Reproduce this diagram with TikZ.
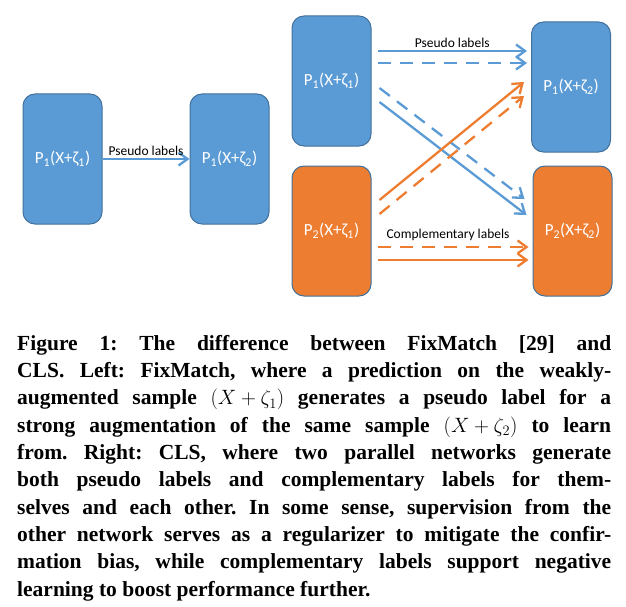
\documentclass[tikz,border=0pt]{standalone}
\usepackage{fontspec}
\usetikzlibrary{arrows.meta,positioning,calc}
\newfontfamily\boxfont{Carlito}
\newfontfamily\capfont{Liberation Serif}
\definecolor{netblue}{HTML}{5B9BD5}
\definecolor{netorange}{HTML}{ED7D31}
\definecolor{netedge}{HTML}{41719C}

\begin{document}
\begin{tikzpicture}[
  x=1pt, y=-1pt,
  netbox/.style={draw=netedge, line width=1pt, rounded corners=12pt, minimum width=79pt, minimum height=130pt, inner sep=0pt, text=white, font=\boxfont\fontsize{17}{20}\selectfont},
  arr/.style={line width=2.3pt, -{Straight Barb[length=9pt,width=13pt]}},
  dsh/.style={dash pattern=on 13pt off 9pt},
  lbl/.style={text=black, font=\boxfont\fontsize{13.5}{15}\selectfont, inner sep=2pt}
]
  \useasboundingbox (0,0) rectangle (626,607);

  % left: FixMatch
  \node[netbox, fill=netblue] (fm1) at (62.5,159) {P\textsubscript{1}(X+ζ\textsubscript{1})};
  \node[netbox, fill=netblue, right=87pt of fm1] (fm2) {P\textsubscript{1}(X+ζ\textsubscript{2})};
  \draw[arr, netblue] (fm1) -- node[lbl, midway, above] {Pseudo labels} (fm2);

  % right: CLS
  \node[netbox, fill=netblue] (weak1) at (331.5,81) {P\textsubscript{1}(X+ζ\textsubscript{1})};
  \node[netbox, fill=netorange, below=19pt of weak1] (weak2) {P\textsubscript{2}(X+ζ\textsubscript{1})};
  \node[netbox, fill=netblue] (strong1) at (571,87) {P\textsubscript{1}(X+ζ\textsubscript{2})};
  \node[netbox, fill=netorange, right=161pt of weak2] (strong2) {P\textsubscript{2}(X+ζ\textsubscript{2})};

  \draw[arr, netblue] ($(weak1.east)+(6,-30)$) -- node[lbl, midway, above] {Pseudo labels} ($(strong1.west)+(-4,-36)$);
  \draw[arr, netblue, dsh] ($(weak1.east)+(6,-18)$) -- ($(strong1.west)+(-4,-24)$);
  \draw[arr, netblue, dsh] ($(weak1.east)+(8,7)$) -- ($(strong2.west)+(-8,-32)$);
  \draw[arr, netblue] ($(weak1.east)+(8,21)$) -- ($(strong2.west)+(-6,-16)$);
  \draw[arr, netorange] ($(weak2.east)+(8,-31)$) -- ($(strong1.west)+(-7,-5)$);
  \draw[arr, netorange, dsh] ($(weak2.east)+(8,-17)$) -- ($(strong1.west)+(-7,9)$);
  \draw[arr, netorange, dsh] ($(weak2.east)+(6,16)$) -- node[lbl, midway, above=3pt, xshift=-5pt] {Complementary labels} ($(strong2.west)+(-4,16)$);
  \draw[arr, netorange] ($(weak2.east)+(6,29)$) -- ($(strong2.west)+(-4,29)$);

  % caption
  \node[anchor=north west, inner sep=0pt, text width=594pt, align=justify,
        font=\capfont\bfseries\fontsize{21.5}{27.3}\selectfont\frenchspacing] (caption) at (17,335)
  {\medmuskip=4mu\relax
   Figure 1: The difference between FixMatch [29] and\linebreak
   CLS. Left: FixMatch, where a prediction on the weakly-\linebreak
   augmented sample $(X+\zeta_1)$ generates a pseudo label for a\linebreak
   strong augmentation of the same sample $(X+\zeta_2)$ to learn\linebreak
   from. Right: CLS, where two parallel networks generate\linebreak
   both pseudo labels and complementary labels for them-\linebreak
   selves and each other. In some sense, supervision from the\linebreak
   other network serves as a regularizer to mitigate the confir-\linebreak
   mation bias, while complementary labels support negative\linebreak
   learning to boost performance further.\par};
\end{tikzpicture}
\end{document}
